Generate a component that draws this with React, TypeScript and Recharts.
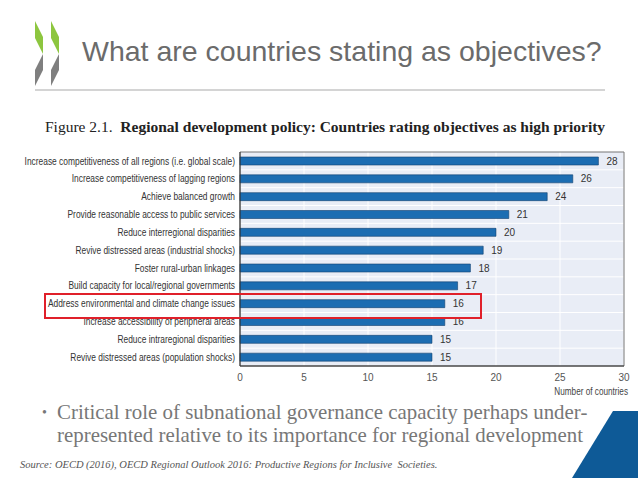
import React from 'react';
import {
  BarChart,
  Bar,
  XAxis,
  YAxis,
  CartesianGrid,
  LabelList,
  ReferenceArea,
} from 'recharts';

// Objectives rated as high priority (top to bottom as in the figure)
const objectives = [
  'Increase competitiveness of all regions (i.e. global scale)',
  'Increase competitiveness of lagging regions',
  'Achieve balanced growth',
  'Provide reasonable access to public services',
  'Reduce interregional disparities',
  'Revive distressed areas (industrial shocks)',
  'Foster rural-urban linkages',
  'Build capacity for local/regional governments',
  'Address environmental and climate change issues',
  'Increase accessibility of peripheral areas',
  'Reduce intraregional disparities',
  'Revive distressed areas (population shocks)',
];

const countries = [28, 26, 24, 21, 20, 19, 18, 17, 16, 16, 15, 15];

const xTicks = [0, 5, 10, 15, 20, 25, 30];

const data = objectives.map((name, i) => ({ name, value: countries[i] }));

const SANS = "'Liberation Sans', Arial, sans-serif";
const SERIF = "'Liberation Serif', 'DejaVu Serif', serif";

// condensed look of the original figure's Arial Narrow labels
const NarrowTick = ({ x, y, payload }: any) => (
  <g transform={`translate(${x},${y}) scale(0.8,1)`}>
    <text x={0} y={0} dy="0.35em" textAnchor="end" fill="#333" fontSize={10.5} fontFamily={SANS}>
      {payload.value}
    </text>
  </g>
);

const Logo = () => (
  <svg width={70} height={90} style={{ position: 'absolute', left: 0, top: 0 }}>
    {[0, 16].map((dx) => (
      <g key={dx} transform={`translate(${dx},0)`}>
        <polygon points="35,21 43,37 43,54 35,38" fill="#8dc63f" />
        <polygon points="35,70 43,54 43,70 35,86" fill="#7f7f7f" />
      </g>
    ))}
  </svg>
);

export default function App() {
  return (
    <div
      style={{
        position: 'fixed',
        left: 0,
        top: 0,
        width: 638,
        height: 478,
        background: '#fff',
        overflow: 'hidden',
      }}
    >
      <Logo />
      <div
        style={{
          position: 'absolute',
          left: 82,
          top: 35,
          fontFamily: SANS,
          fontSize: 28.5,
          color: '#6b6b6b',
          whiteSpace: 'nowrap',
        }}
      >
        What are countries stating as objectives?
      </div>
      <div
        style={{
          position: 'absolute',
          left: 35,
          top: 89,
          width: 570,
          height: 2,
          background: '#d4d4d4',
        }}
      />

      <div
        style={{
          position: 'absolute',
          left: 45,
          top: 118,
          fontFamily: SERIF,
          fontSize: 15.5,
          color: '#222',
          whiteSpace: 'nowrap',
        }}
      >
        Figure 2.1.&nbsp; <b>Regional development policy: Countries rating objectives as high priority</b>
      </div>

      <div style={{ position: 'absolute', left: 0, top: 140 }}>
        <BarChart
          width={638}
          height={260}
          data={data}
          layout="vertical"
          margin={{ top: 12, right: 14, bottom: 4, left: 0 }}
        >
          <CartesianGrid
            fill="#e9edf6"
            stroke="#ffffff"
            strokeWidth={1}
            horizontalCoordinatesGenerator={({ offset }: any) =>
              objectives.slice(1).map((_, i) => offset.top + ((i + 1) * offset.height) / objectives.length)
            }
          />
          <XAxis
            type="number"
            domain={[0, 30]}
            ticks={xTicks}
            height={30}
            axisLine={{ stroke: '#333' }}
            tickLine={false}
            tickMargin={2}
            tick={{ fill: '#555', fontSize: 10, fontFamily: SANS }}
          />
          <YAxis
            type="category"
            dataKey="name"
            width={240}
            axisLine={{ stroke: '#333' }}
            tickLine={false}
            tickSize={0}
            tickMargin={5}
            interval={0}
            tick={<NarrowTick />}
          />
          <ReferenceArea x1={0} x2={30} fill="none" stroke="#777" strokeWidth={1} />
          <Bar
            dataKey="value"
            fill="#1c6db2"
            stroke="#103f6e"
            strokeWidth={0.6}
            barSize={8}
            isAnimationActive={false}
          >
            <LabelList
              dataKey="value"
              position="right"
              offset={8}
              fill="#333"
              fontSize={10}
              fontFamily={SANS}
            />
          </Bar>
        </BarChart>
      </div>

      <svg width={638} height={478} style={{ position: 'absolute', left: 0, top: 0, pointerEvents: 'none' }}>
        <text
          x={628}
          y={395}
          textAnchor="end"
          transform="translate(628,0) scale(0.82,1) translate(-628,0)"
          fill="#444"
          fontSize={10}
          fontFamily={SANS}
        >
          Number of countries
        </text>
        <polygon points="613,411 638,411 638,478 572,478" fill="#0e5a97" />
      </svg>

      <div
        style={{
          position: 'absolute',
          left: 44,
          top: 293,
          width: 434,
          height: 22,
          border: '2px solid #e0202a',
        }}
      />

      <div
        style={{
          position: 'absolute',
          left: 42,
          top: 401,
          width: 560,
          fontFamily: SERIF,
          fontSize: 20.9,
          lineHeight: '23px',
          color: '#777',
          display: 'flex',
          whiteSpace: 'nowrap',
        }}
      >
        <span style={{ width: 15, flex: 'none', fontSize: 14 }}>•</span>
        <span>
          Critical role of subnational governance capacity perhaps under-
          <br />
          represented relative to its importance for regional development
        </span>
      </div>

      <div
        style={{
          position: 'absolute',
          left: 20,
          top: 459,
          fontFamily: SERIF,
          fontStyle: 'italic',
          fontSize: 10.5,
          color: '#555',
          whiteSpace: 'nowrap',
        }}
      >
        Source: OECD (2016), OECD Regional Outlook 2016: Productive Regions for Inclusive&nbsp; Societies.
      </div>
    </div>
  );
}
